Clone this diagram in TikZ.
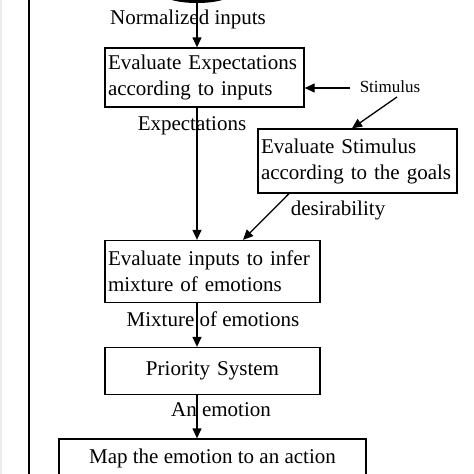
\documentclass[tikz,border=0pt]{standalone}
\usepackage{fontspec}
\setmainfont{Liberation Serif}
\usetikzlibrary{arrows.meta}
\begin{document}
\begin{tikzpicture}[x=1pt,y=-1pt,
  box/.style={draw,line width=1.3pt,rectangle,inner xsep=3pt,inner ysep=0pt,
    font=\fontsize{21}{26}\selectfont},
  lbl/.style={inner sep=0pt,font=\fontsize{21}{26}\selectfont},
  arr/.style={line width=1.3pt,-{Triangle[length=10pt,width=9pt]}}]
\useasboundingbox (0,0) rectangle (474,474);
\fill[white] (0,0) rectangle (474,474);
\fill[gray!15] (0,0) rectangle (2,474);
% frame line and top shape
\draw[line width=2pt] (29,0) -- (29,474);
\fill[black] (197,-8) ellipse [x radius=37, y radius=11];
% boxes
\node[box,text width=193pt,minimum height=59pt,align=left] (b1) at (204.5,77.5)
  {Evaluate Expectations\\according to inputs};
\node[box,text width=193pt,minimum height=64pt,align=left] (b2) at (357.5,161)
  {Evaluate Stimulus\\according to the goals};
\node[box,text width=209pt,minimum height=62pt,align=left] (b3) at (212.5,271.5)
  {Evaluate inputs to infer\\mixture of emotions};
\node[box,text width=209pt,minimum height=47pt,align=center] (b4) at (212.5,371)
  {Priority System};
\node[box,minimum width=307pt,minimum height=70pt] (b5) at (212.5,474) {};
\node[lbl] (t5) at (212.5,458) {Map the emotion to an action};
% labels
\node[lbl] (l1) at (188,19) {Normalized inputs};
\node[lbl] (l2) at (192,126) {Expectations};
\node[lbl] (l3) at (338,210) {desirability};
\node[lbl] (l4) at (213,319) {Mixture of emotions};
\node[lbl] (l5) at (221,410) {An emotion};
\node[inner sep=0pt,font=\fontsize{17}{20}\selectfont] (st) at (390,87) {Stimulus};
% connectors
\coordinate (cx) at (197,0);
\coordinate (s1) at (350,88);
\coordinate (s2) at (397,97);
\coordinate (d1) at (289,0);
\coordinate (d2) at (243,0);
\coordinate (d3) at (352,0);
\draw[arr] (cx) -- (cx |- b1.north);
\draw[arr] (cx |- b1.south) -- (cx |- b3.north);
\draw[arr] (s1) -- (s1 -| b1.east);
\draw[arr] (s2) -- (d3 |- b2.north);
\draw[arr] (d1 |- b2.south) -- (d2 |- b3.north);
\draw[arr] (cx |- b3.south) -- (cx |- b4.north);
\draw[arr] (cx |- b4.south) -- (cx |- b5.north);
\end{tikzpicture}
\end{document}
